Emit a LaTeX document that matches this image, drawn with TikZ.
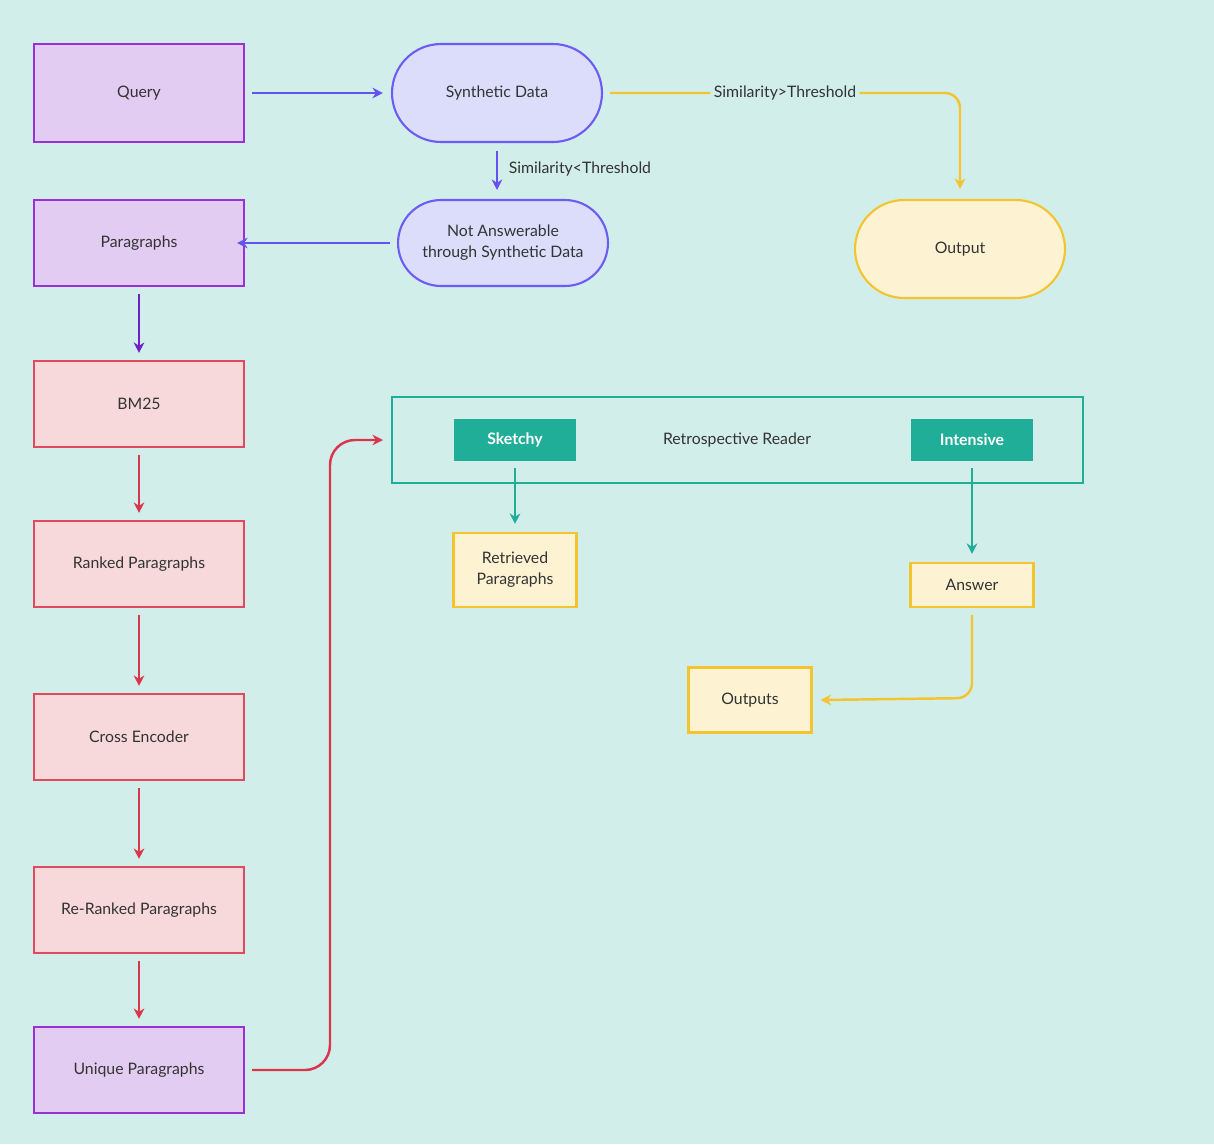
\documentclass[tikz,border=0pt]{standalone}
\usepackage{fontspec}
\setmainfont{Lato}
\usetikzlibrary{arrows.meta}
\definecolor{bg}{HTML}{D2EEEA}
\definecolor{pf}{HTML}{E2CCF2}\definecolor{pb}{HTML}{9B30D9}
\definecolor{lf}{HTML}{DCDDFB}\definecolor{lb}{HTML}{6B5CF5}
\definecolor{rf}{HTML}{F7D9DC}\definecolor{rb}{HTML}{E04A5E}
\definecolor{yf}{HTML}{FDF3D3}\definecolor{yb}{HTML}{F4C430}
\definecolor{tl}{HTML}{21AE98}
\definecolor{ablue}{HTML}{6651F5}\definecolor{apur}{HTML}{7022C8}
\definecolor{ared}{HTML}{D9364D}
\begin{document}
\begin{tikzpicture}[x=0.02cm,y=-0.02cm,
 every node/.style={font=\fontsize{9}{12}\selectfont, text=black!80, align=center, inner sep=0pt},
 box/.style={draw, line width=1.2pt, minimum width=4.2cm, minimum height=1.72cm},
 purp/.style={box, fill=pf, draw=pb},
 pink/.style={box, fill=rf, draw=rb},
 pill/.style={draw=lb, fill=lf, line width=1.2pt, rounded corners=0.98cm, minimum width=4.2cm, minimum height=1.96cm},
 pill2/.style={pill, rounded corners=0.86cm, minimum height=1.72cm},
 ybox/.style={draw=yb, fill=yf, line width=1.2pt, minimum width=2.46cm},
 tbox/.style={fill=tl, text=white, font=\fontsize{9}{12}\selectfont\bfseries, minimum width=2.46cm, minimum height=0.84cm},
 ar/.style={line width=1.4pt, -{Stealth[length=6pt,width=6pt]}, rounded corners=0.3cm},
 lab/.style={fill=bg, inner sep=2pt}]
\fill[bg] (0,0) rectangle (1214,1144);
\node[purp] (q) at (139,93) [minimum height=1.96cm] {Query};
\node[pill] (sd) at (497,93) {Synthetic Data};
\node[pill, draw=yb, fill=yf] (out) at (960,249) {Output};
\node[purp] (par) at (139,243) {Paragraphs};
\node[pill2] (na) at (503,243) {Not Answerable\\through Synthetic Data};
\node[pink] (bm) at (139,404) {BM25};
\node[pink] (rp) at (139,564) {Ranked Paragraphs};
\node[pink] (ce) at (139,737) {Cross Encoder};
\node[pink] (rr) at (139,910) {Re-Ranked Paragraphs};
\node[purp] (up) at (139,1070) {Unique Paragraphs};
\node[draw=tl, line width=1.2pt, minimum width=13.82cm, minimum height=1.72cm] (rt) at (737.5,440) {};
\node (rtl) at (737,440) {Retrospective Reader};
\node[tbox] (sk) at (515,440) {Sketchy};
\node[tbox] (in) at (972,440) {Intensive};
\node[ybox, minimum height=1.48cm] (ret) at (515,570) {Retrieved\\Paragraphs};
\node[ybox, minimum height=0.88cm] (ans) at (972,585) {Answer};
\node[ybox, minimum height=1.3cm] (outs) at (750,700) {Outputs};
\draw[ar, ablue] ([xshift=0.14cm]q.east) -- ([xshift=-0.16cm]sd.west);
\draw[ar, yb] ([xshift=0.14cm]sd.east) -- (960,93) node[lab, pos=0.5] {Similarity>Threshold} -- ([yshift=0.2cm]out.north);
\draw[ar, ablue] ([yshift=-0.16cm]sd.south) -- ([yshift=0.2cm]497,200) node[right=4pt, pos=0.45, inner sep=2pt] {Similarity<Threshold};
\draw[ar, ablue] ([xshift=-0.14cm]na.west) -- ([xshift=-0.16cm]par.east);
\draw[ar, apur] ([yshift=-0.14cm]par.south) -- ([yshift=0.14cm]bm.north);
\draw[ar, ared] ([yshift=-0.14cm]bm.south) -- ([yshift=0.14cm]rp.north);
\draw[ar, ared] ([yshift=-0.14cm]rp.south) -- ([yshift=0.14cm]ce.north);
\draw[ar, ared] ([yshift=-0.14cm]ce.south) -- ([yshift=0.14cm]rr.north);
\draw[ar, ared] ([yshift=-0.14cm]rr.south) -- ([yshift=0.14cm]up.north);
\draw[ar, ared, rounded corners=0.5cm] ([xshift=0.14cm]up.east) -- (330,1070) -- (330,440) -- ([xshift=-0.16cm]rt.west);
\draw[ar, tl] ([yshift=-0.14cm]sk.south) -- ([yshift=0.16cm]ret.north);
\draw[ar, tl] (972,468) -- ([yshift=0.16cm]ans.north);
\draw[ar, yb] ([yshift=-0.14cm]ans.south) -- (972,698) -- ([xshift=0.16cm]outs.east);
\end{tikzpicture}
\end{document}
